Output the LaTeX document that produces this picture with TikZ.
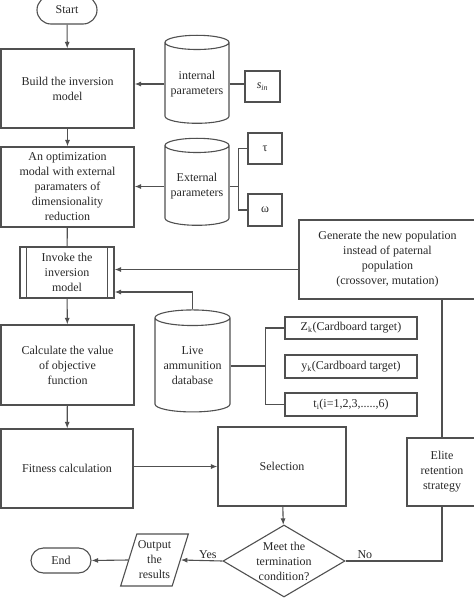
\documentclass[tikz,border=0pt]{standalone}
\usepackage{fontspec}
\setmainfont{Liberation Serif}
\usetikzlibrary{positioning, arrows.meta, shapes.geometric, shapes.misc}
\definecolor{lineg}{RGB}{80,80,80}
\definecolor{textg}{RGB}{40,40,40}

\begin{document}
\begin{tikzpicture}[
      x=1pt, y=-1pt,
      font=\fontsize{12}{15}\selectfont,
      box/.style={draw=lineg, line width=1.1pt, align=center, inner sep=1pt, text=textg},
      term/.style={box, rounded rectangle},
      db/.style={box, cylinder, shape border rotate=90, aspect=0.26},
      io/.style={box, trapezium, trapezium left angle=68, trapezium right angle=112, trapezium stretches body},
      cond/.style={box, diamond, aspect=1.7, inner sep=0pt},
      arr/.style={-{Latex[length=6.5pt, width=5pt]}, draw=lineg, line width=1.1pt},
      ln/.style={draw=lineg, line width=1.1pt},
      lbl/.style={text=textg, inner sep=1.5pt}
  ]
  \useasboundingbox (0,0) rectangle (474,598);
  \clip (0,0) rectangle (474,598);

  % main column
  \node[term, minimum width=62, minimum height=28] (start) at (67,10) {Start};
  \node[box, minimum width=133, minimum height=79] (build) at (67.5,88.5) {Build the inversion\\model};
  \node[box, minimum width=133, minimum height=80] (optim) at (67.5,187) {An optimization\\modal with external\\paramaters of\\dimensionality\\reduction};
  \node[box, minimum width=94, minimum height=51] (invoke) at (67,272.5) {Invoke the\\inversion\\model};
  \draw[ln] ([xshift=7pt]invoke.north west) -- ([xshift=7pt]invoke.south west);
  \draw[ln] ([xshift=-7pt]invoke.north east) -- ([xshift=-7pt]invoke.south east);
  \node[box, minimum width=133, minimum height=80] (objfun) at (67.5,365) {Calculate the value\\of objective\\function};
  \node[box, minimum width=132, minimum height=79] (fitness) at (67,468.5) {Fitness calculation};

  % parameters
  \node[db, minimum width=64, minimum height=88] (intpar) at (197,84) {internal\\parameters};
  \node[box, minimum width=35, minimum height=31] (sin) at (262.5,86.5) {\textit{s}\textsubscript{\textit{in}}};
  \node[db, minimum width=64, minimum height=87] (extpar) at (197,186.5) {External\\parameters};
  \node[box, minimum width=34, minimum height=31] (tau) at (265,148.5) {τ};
  \node[box, minimum width=34, minimum height=32] (omega) at (265,210) {ω};

  % database and targets
  \node[db, minimum width=75, minimum height=102] (livedb) at (192.5,366) {Live\\ammunition\\database};
  \node[box, minimum width=132, minimum height=22] (zk) at (351,328) {Z\textsubscript{k}(Cardboard target)};
  \node[box, minimum width=132, minimum height=23] (yk) at (351,366.5) {y\textsubscript{k}(Cardboard target)};
  \node[box, minimum width=132, minimum height=23] (ti) at (351,404.5) {t\textsubscript{i}(i=1,2,3,.....,6)};

  % genetic loop
  \node[box, minimum width=177, minimum height=79] (newpop) at (387.5,259.5) {Generate the new population\\instead of paternal\\population\\(crossover, mutation)};
  \node[box, minimum width=128, minimum height=79] (select) at (282,466.5) {Selection};
  \node[box, minimum width=70, minimum height=68] (elite) at (442,472) {Elite\\retention\\strategy};
  \node[cond, minimum width=122, minimum height=72] (stop) at (284,561) {Meet the\\termination\\condition?};
  \node[io, minimum height=52] (output) at (154.5,560) {Output\\the\\results};
  \node[term, minimum width=62, minimum height=25] (finish) at (61,560.5) {End};

  \draw[arr] (start) -- (build);
  \draw[arr] (build) -- (optim);
  \draw[ln] (optim) -- (invoke);
  \draw[arr] (invoke) -- (objfun);
  \draw[arr] (objfun) -- (fitness);
  \draw[arr] (intpar.west) -- (intpar.west -| build.east);
  \draw[ln] (intpar.east) -- (intpar.east -| sin.west);
  \draw[arr] (extpar.west) -- (extpar.west -| optim.east);
  \draw[ln] (extpar.east) -- ++(9,0) coordinate (extsplit);
  \draw[ln] (tau.west) -| (extsplit) |- (omega.west);
  \draw[ln] (livedb.east) -- ++(35,0) coordinate (livesplit);
  \draw[ln] (zk.west) -| (livesplit) |- (ti.west);
  \draw[arr] ([yshift=3pt]invoke.east -| newpop.west) -- ([yshift=3pt]invoke.east);
  \draw[arr] (livedb.north) |- ([yshift=-19.5pt]invoke.east);
  \draw[arr] (fitness.east |- select.west) -- (select.west);
  \draw[arr] (select) -- (stop);
  \draw[arr] (stop.west) -- node[lbl, above, pos=0.35] {Yes} (output.east);
  \draw[arr] (output.west) -- (finish.east);
  \draw[ln] (stop.east) -- node[lbl, above, pos=0.2] {No} (stop.east -| elite.south) -- (elite.south);
  \draw[ln] (elite.north) -- (elite.north |- newpop.south);
\end{tikzpicture}
\end{document}
